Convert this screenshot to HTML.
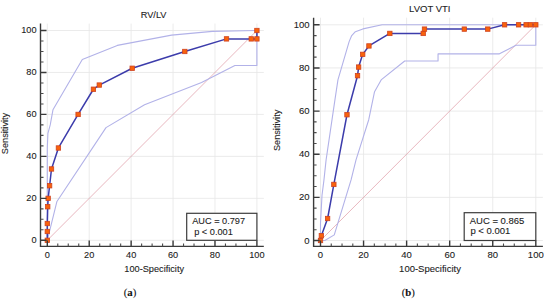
<!DOCTYPE html>
<html><head><meta charset="utf-8"><style>
html,body{margin:0;padding:0;background:#fff;}
body{width:550px;height:300px;overflow:hidden;}
svg{display:block;}
text{font-family:"Liberation Sans",sans-serif;fill:#1c1c1c;stroke:#1c1c1c;stroke-width:0.1px;}
text.lab{font-family:"Liberation Serif",serif;font-size:10.8px;fill:#111;}
</style></head><body>
<svg width="550" height="300" viewBox="0 0 550 300">
<rect width="550" height="300" fill="#fff"/>
<g style="font-size:9.2px">
<path d="M47.30 23.58V246.40 M40.50 240.30H263.82 M89.22 23.58V246.40 M40.50 198.34H263.82 M131.14 23.58V246.40 M40.50 156.38H263.82 M173.06 23.58V246.40 M40.50 114.42H263.82 M214.98 23.58V246.40 M40.50 72.46H263.82 M256.90 23.58V246.40 M40.50 30.50H263.82" stroke="#e6e6e6" stroke-width="0.8" fill="none"/>
<path d="M47.30 240.30L256.90 30.50" stroke="#de98a4" stroke-width="0.7" fill="none"/>
<path d="M47.30 240.30 L47.30 147.99 L47.93 133.30 L50.23 124.91 L52.96 109.80 L82.30 59.45 L117.31 45.40 L171.59 35.12 L212.26 31.34 L256.90 30.50" stroke="#b2b2e8" stroke-width="1.1" fill="none" stroke-linejoin="round"/>
<path d="M47.30 240.30 L56.94 201.49 L105.99 127.64 L144.55 104.77 L201.57 82.53 L234.89 65.54 L256.90 65.54 L256.90 30.50" stroke="#b2b2e8" stroke-width="1.1" fill="none" stroke-linejoin="round"/>
<path d="M47.30 240.30 L47.30 231.49 L47.30 223.52 L47.72 206.73 L48.14 198.34 L49.61 185.75 L51.49 168.97 L58.41 147.99 L78.11 114.42 L93.41 89.24 L99.28 85.05 L132.19 68.26 L184.80 51.48 L226.51 38.89 L251.24 38.89 L256.90 38.89 L256.90 30.50" stroke="#3c3cab" stroke-width="1.5" fill="none" stroke-linejoin="round"/>
<g fill="#f8620c" stroke="#cf4320" stroke-width="0.8"><rect x="45.10" y="238.10" width="4.4" height="4.4"/><rect x="45.10" y="229.29" width="4.4" height="4.4"/><rect x="45.10" y="221.32" width="4.4" height="4.4"/><rect x="45.52" y="204.53" width="4.4" height="4.4"/><rect x="45.94" y="196.14" width="4.4" height="4.4"/><rect x="47.41" y="183.55" width="4.4" height="4.4"/><rect x="49.29" y="166.77" width="4.4" height="4.4"/><rect x="56.21" y="145.79" width="4.4" height="4.4"/><rect x="75.91" y="112.22" width="4.4" height="4.4"/><rect x="91.21" y="87.04" width="4.4" height="4.4"/><rect x="97.08" y="82.85" width="4.4" height="4.4"/><rect x="129.99" y="66.06" width="4.4" height="4.4"/><rect x="182.60" y="49.28" width="4.4" height="4.4"/><rect x="224.31" y="36.69" width="4.4" height="4.4"/><rect x="249.04" y="36.69" width="4.4" height="4.4"/><rect x="254.70" y="36.69" width="4.4" height="4.4"/><rect x="254.70" y="28.30" width="4.4" height="4.4"/></g>
<path d="M40.50 23.58V247.10 M39.80 246.40H263.82 M40.50 240.30h6 M47.30 246.40v-6 M40.50 198.34h6 M89.22 246.40v-6 M40.50 156.38h6 M131.14 246.40v-6 M40.50 114.42h6 M173.06 246.40v-6 M40.50 72.46h6 M214.98 246.40v-6 M40.50 30.50h6 M256.90 246.40v-6" stroke="#3a3a3a" stroke-width="1.4" fill="none"/>
<path d="M40.50 229.81h3 M57.78 246.40v-3 M40.50 219.32h3 M68.26 246.40v-3 M40.50 208.83h3 M78.74 246.40v-3 M40.50 187.85h3 M99.70 246.40v-3 M40.50 177.36h3 M110.18 246.40v-3 M40.50 166.87h3 M120.66 246.40v-3 M40.50 145.89h3 M141.62 246.40v-3 M40.50 135.40h3 M152.10 246.40v-3 M40.50 124.91h3 M162.58 246.40v-3 M40.50 103.93h3 M183.54 246.40v-3 M40.50 93.44h3 M194.02 246.40v-3 M40.50 82.95h3 M204.50 246.40v-3 M40.50 61.97h3 M225.46 246.40v-3 M40.50 51.48h3 M235.94 246.40v-3 M40.50 40.99h3 M246.42 246.40v-3" stroke="#4a4a4a" stroke-width="1.1" fill="none"/>
<text x="36.50" y="242.90" text-anchor="end">0</text>
<text x="47.30" y="257.60" text-anchor="middle">0</text>
<text x="36.50" y="200.94" text-anchor="end">20</text>
<text x="89.22" y="257.60" text-anchor="middle">20</text>
<text x="36.50" y="158.98" text-anchor="end">40</text>
<text x="131.14" y="257.60" text-anchor="middle">40</text>
<text x="36.50" y="117.02" text-anchor="end">60</text>
<text x="173.06" y="257.60" text-anchor="middle">60</text>
<text x="36.50" y="75.06" text-anchor="end">80</text>
<text x="214.98" y="257.60" text-anchor="middle">80</text>
<text x="36.50" y="33.10" text-anchor="end">100</text>
<text x="256.90" y="257.60" text-anchor="middle">100</text>
<text x="153.60" y="18.30" text-anchor="middle">RV/LV</text>
<text x="154.20" y="271.60" text-anchor="middle">100-Specificity</text>
<text transform="translate(7.50 133.50) rotate(-90)" text-anchor="middle" style="font-size:9.2px">Sensitivity</text>
<rect x="186.70" y="213.30" width="70.20" height="27.00" fill="#fff" stroke="#3c3c3c" stroke-width="1.2"/>
<text x="192.20" y="224.30">AUC = 0.797</text>
<text x="194.20" y="234.80">p &lt; 0.001</text>
<text x="130.00" y="296.2" text-anchor="middle" class="lab">(<tspan font-weight="bold">a</tspan>)</text>
</g>
<g style="font-size:9.5px">
<path d="M320.50 17.68V246.40 M313.60 240.50H542.90 M363.56 17.68V246.40 M313.60 197.36H542.90 M406.62 17.68V246.40 M313.60 154.22H542.90 M449.68 17.68V246.40 M313.60 111.08H542.90 M492.74 17.68V246.40 M313.60 67.94H542.90 M535.80 17.68V246.40 M313.60 24.80H542.90" stroke="#e6e6e6" stroke-width="0.8" fill="none"/>
<path d="M320.50 240.50L535.80 24.80" stroke="#de98a4" stroke-width="0.7" fill="none"/>
<path d="M320.50 240.50 L320.50 223.24 L322.01 195.20 L323.94 180.10 L326.10 159.83 L334.93 99.86 L337.94 79.80 L349.13 41.62 L351.72 35.59 L355.38 31.70 L362.91 28.90 L382.08 24.80 L535.80 24.80" stroke="#b2b2e8" stroke-width="1.1" fill="none" stroke-linejoin="round"/>
<path d="M320.50 240.50 L324.81 240.50 L334.28 234.89 L351.07 179.89 L356.02 159.83 L368.73 119.71 L374.54 91.67 L381.43 79.59 L404.68 61.04 L438.05 61.04 L438.05 53.92 L498.98 53.92 L515.99 45.29 L535.80 45.29 L535.80 24.80" stroke="#b2b2e8" stroke-width="1.1" fill="none" stroke-linejoin="round"/>
<path d="M320.50 240.50 L321.36 235.75 L327.60 218.50 L333.85 184.42 L346.98 114.75 L357.53 75.71 L358.61 67.08 L362.70 54.35 L368.94 45.94 L389.83 33.43 L423.20 33.43 L424.49 29.11 L464.32 29.11 L487.79 29.11 L504.58 24.80 L518.58 24.80 L526.11 24.80 L530.42 24.80 L535.80 24.80" stroke="#3c3cab" stroke-width="1.5" fill="none" stroke-linejoin="round"/>
<g fill="#f8620c" stroke="#cf4320" stroke-width="0.8"><rect x="318.30" y="238.30" width="4.4" height="4.4"/><rect x="319.16" y="233.55" width="4.4" height="4.4"/><rect x="325.40" y="216.30" width="4.4" height="4.4"/><rect x="331.65" y="182.22" width="4.4" height="4.4"/><rect x="344.78" y="112.55" width="4.4" height="4.4"/><rect x="355.33" y="73.51" width="4.4" height="4.4"/><rect x="356.41" y="64.88" width="4.4" height="4.4"/><rect x="360.50" y="52.15" width="4.4" height="4.4"/><rect x="366.74" y="43.74" width="4.4" height="4.4"/><rect x="387.63" y="31.23" width="4.4" height="4.4"/><rect x="421.00" y="31.23" width="4.4" height="4.4"/><rect x="422.29" y="26.91" width="4.4" height="4.4"/><rect x="462.12" y="26.91" width="4.4" height="4.4"/><rect x="485.59" y="26.91" width="4.4" height="4.4"/><rect x="502.38" y="22.60" width="4.4" height="4.4"/><rect x="516.38" y="22.60" width="4.4" height="4.4"/><rect x="523.91" y="22.60" width="4.4" height="4.4"/><rect x="528.22" y="22.60" width="4.4" height="4.4"/><rect x="533.60" y="22.60" width="4.4" height="4.4"/></g>
<path d="M313.60 17.68V247.10 M312.90 246.40H542.90 M313.60 240.50h6 M320.50 246.40v-6 M313.60 197.36h6 M363.56 246.40v-6 M313.60 154.22h6 M406.62 246.40v-6 M313.60 111.08h6 M449.68 246.40v-6 M313.60 67.94h6 M492.74 246.40v-6 M313.60 24.80h6 M535.80 246.40v-6" stroke="#3a3a3a" stroke-width="1.4" fill="none"/>
<path d="M313.60 229.72h3 M331.26 246.40v-3 M313.60 218.93h3 M342.03 246.40v-3 M313.60 208.14h3 M352.80 246.40v-3 M313.60 186.57h3 M374.32 246.40v-3 M313.60 175.79h3 M385.09 246.40v-3 M313.60 165.00h3 M395.86 246.40v-3 M313.60 143.44h3 M417.38 246.40v-3 M313.60 132.65h3 M428.15 246.40v-3 M313.60 121.86h3 M438.92 246.40v-3 M313.60 100.29h3 M460.44 246.40v-3 M313.60 89.51h3 M471.21 246.40v-3 M313.60 78.72h3 M481.98 246.40v-3 M313.60 57.16h3 M503.50 246.40v-3 M313.60 46.37h3 M514.27 246.40v-3 M313.60 35.59h3 M525.03 246.40v-3" stroke="#4a4a4a" stroke-width="1.1" fill="none"/>
<text x="309.60" y="243.60" text-anchor="end">0</text>
<text x="320.50" y="257.60" text-anchor="middle">0</text>
<text x="309.60" y="200.46" text-anchor="end">20</text>
<text x="363.56" y="257.60" text-anchor="middle">20</text>
<text x="309.60" y="157.32" text-anchor="end">40</text>
<text x="406.62" y="257.60" text-anchor="middle">40</text>
<text x="309.60" y="114.18" text-anchor="end">60</text>
<text x="449.68" y="257.60" text-anchor="middle">60</text>
<text x="309.60" y="71.04" text-anchor="end">80</text>
<text x="492.74" y="257.60" text-anchor="middle">80</text>
<text x="309.60" y="27.90" text-anchor="end">100</text>
<text x="535.80" y="257.60" text-anchor="middle">100</text>
<text x="429.80" y="12.00" text-anchor="middle">LVOT VTI</text>
<text x="430.00" y="271.60" text-anchor="middle">100-Specificity</text>
<text transform="translate(280.00 130.40) rotate(-90)" text-anchor="middle" style="font-size:9.2px">Sensitivity</text>
<rect x="464.20" y="212.70" width="71.60" height="27.80" fill="#fff" stroke="#3c3c3c" stroke-width="1.2"/>
<text x="469.70" y="223.70">AUC = 0.865</text>
<text x="470.40" y="234.20">p &lt; 0.001</text>
<text x="408.30" y="296.2" text-anchor="middle" class="lab">(<tspan font-weight="bold">b</tspan>)</text>
</g>
</svg>
</body></html>
